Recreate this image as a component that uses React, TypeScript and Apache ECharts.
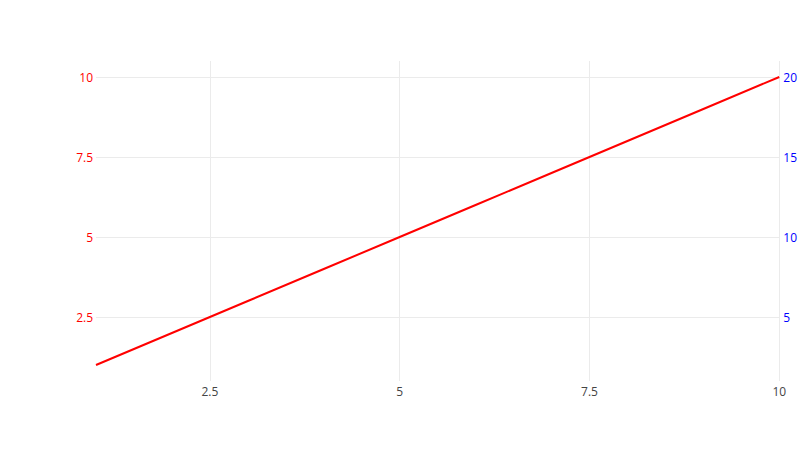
import { useEffect, useRef } from "react";
import * as echarts from "echarts";

// line data (x, y)
const xValues = [1, 2, 3, 4, 5, 6, 7, 8, 9, 10];
const yValues = [1, 2, 3, 4, 5, 6, 7, 8, 9, 10];

// tick labels
const xTicks = [2.5, 5, 7.5, 10];
const yLeftTicks = [2.5, 5, 7.5, 10];
const yRightTicks = [5, 10, 15, 20];

export default function App(): JSX.Element {
  const chartRef = useRef<HTMLDivElement>(null);

  useEffect(() => {
    document.body.style.margin = "0";
    const chart = echarts.init(chartRef.current, null, { renderer: "svg" });
    const font = { fontFamily: "Open Sans", fontSize: 12 };
    const option = {
      animation: false,
      grid: { left: 96, right: 19, top: 61, bottom: 76 },
      xAxis: {
        type: "value",
        min: 1,
        max: 10,
        axisLine: { show: false },
        axisTick: { show: false, customValues: xTicks },
        axisLabel: { ...font, color: "#444", margin: 4, customValues: xTicks },
        splitLine: { show: true, lineStyle: { color: "#ebebeb", width: 1 } },
      },
      yAxis: [
        {
          type: "value",
          position: "left",
          min: 0.5,
          max: 10.5,
          axisLine: { show: false },
          axisTick: { show: false, customValues: yLeftTicks },
          axisLabel: { ...font, color: "#ff0000", margin: 3, customValues: yLeftTicks },
          splitLine: { show: true, lineStyle: { color: "#ebebeb", width: 1 } },
        },
        {
          type: "value",
          position: "right",
          min: 1,
          max: 21,
          axisLine: { show: false },
          axisTick: { show: false, customValues: yRightTicks },
          axisLabel: { ...font, color: "#0000ff", margin: 4, customValues: yRightTicks },
          splitLine: { show: false },
        },
      ],
      series: [
        {
          type: "line",
          yAxisIndex: 0,
          data: xValues.map((x, i) => [x, yValues[i]]),
          showSymbol: false,
          lineStyle: { color: "#ff0000", width: 2 },
          itemStyle: { color: "#ff0000" },
        },
      ],
    };
    chart.setOption(option);
    return () => {
      chart.dispose();
    };
  }, []);

  return <div ref={chartRef} style={{ width: 800, height: 457 }}></div>;
}
